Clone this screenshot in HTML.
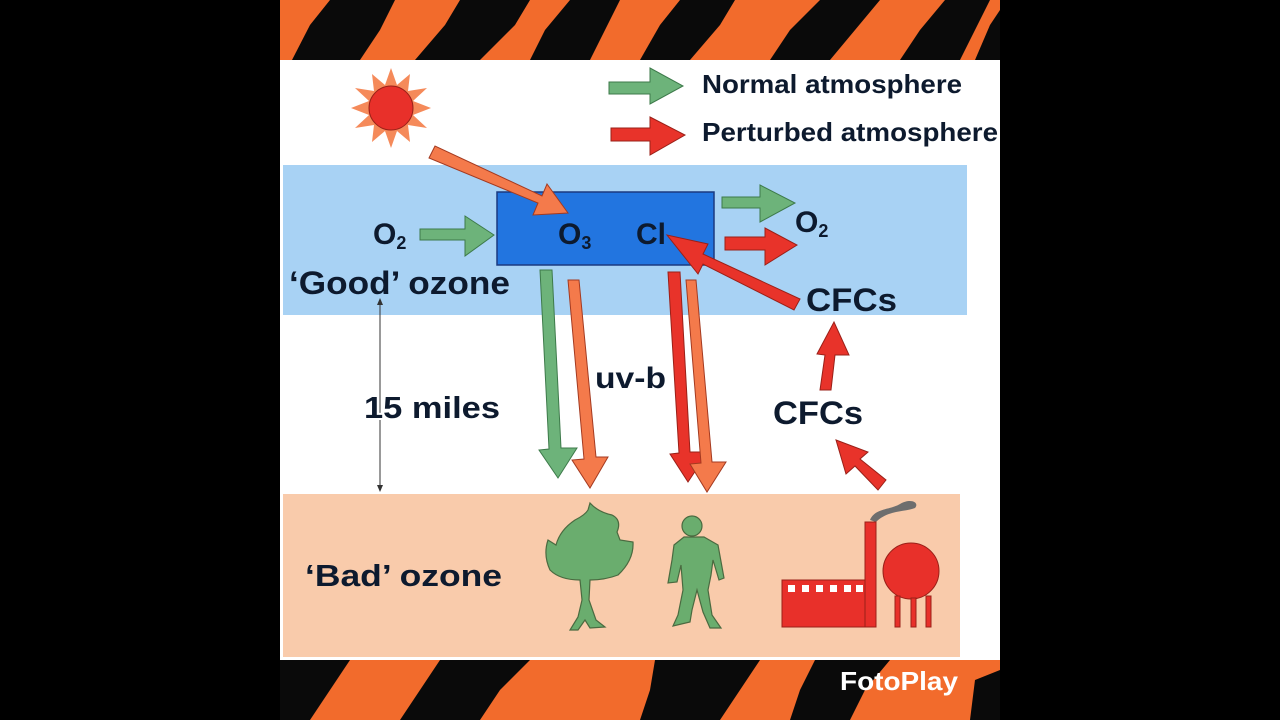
<!DOCTYPE html>
<html><head><meta charset="utf-8"><style>
html,body{margin:0;padding:0;background:#000;width:1280px;height:720px;overflow:hidden}
svg{display:block}
text{font-family:"Liberation Sans",Arial,sans-serif;font-weight:bold;fill:#0d1a2e}
</style></head><body>
<svg width="1280" height="720" viewBox="0 0 1280 720">
<rect x="0" y="0" width="1280" height="720" fill="#000"/>
<rect x="280" y="0" width="720" height="60" fill="#f26b2c"/>
<g fill="#0a0a0a">
<polygon points="292,60 360,60 380,30 395,0 330,0 310,25"/>
<polygon points="415,60 480,60 515,25 530,0 460,0 445,25"/>
<polygon points="530,60 590,60 605,30 620,0 570,0 545,30"/>
<polygon points="640,60 690,60 720,25 735,0 680,0 660,25"/>
<polygon points="770,60 830,60 855,30 880,0 820,0 790,30"/>
<polygon points="900,60 960,60 975,30 990,0 945,0 920,30"/>
<polygon points="975,60 1000,60 1000,10 990,25"/>
</g>
<rect x="280" y="660" width="720" height="60" fill="#f26b2c"/>
<g fill="#0a0a0a">
<polygon points="280,660 350,660 330,690 310,720 280,720"/>
<polygon points="440,660 530,660 500,690 480,720 400,720 420,690"/>
<polygon points="655,660 760,660 740,690 720,720 640,720 650,690"/>
<polygon points="815,660 890,660 865,690 850,720 790,720 800,690"/>
<polygon points="975,680 1000,670 1000,720 970,720"/>
</g>
<text x="840" y="690" font-size="26" textLength="118" lengthAdjust="spacingAndGlyphs" style="fill:#fff">FotoPlay</text>
<rect x="280" y="60" width="720" height="600" fill="#fff"/>
<rect x="283" y="165" width="684" height="150" fill="#a8d2f4"/>
<rect x="283" y="494" width="677" height="163" fill="#f9cbab"/>
<rect x="497" y="192" width="217" height="73" fill="#2275e0" stroke="#1a3a80" stroke-width="1.5"/>
<polygon points="609,82 650,82 650,68 683,86 650,104 650,94 609,94" fill="#6db37a" stroke="#3d7a4a" stroke-width="1"/>
<polygon points="611,128 650,128 650,117 685,135 650,155 650,141 611,141" fill="#e8332a" stroke="#9a2018" stroke-width="1"/>
<text x="702" y="93" font-size="26" textLength="260" lengthAdjust="spacingAndGlyphs">Normal atmosphere</text>
<text x="702" y="141" font-size="26" textLength="296" lengthAdjust="spacingAndGlyphs">Perturbed atmosphere</text>
<polygon fill="#f58a5a" points="391,68 397,85 410,74 408,91 427,88 413,101 431,108 413,115 427,128 408,125 410,142 397,131 391,148 385,131 372,142 374,125 355,128 369,115 351,108 369,101 355,88 374,91 372,74 385,85"/>
<circle cx="391" cy="108" r="22" fill="#e8302a" stroke="#9a2018" stroke-width="1"/>
<polygon points="429,158 435,146 542,196 547,184 568,213 533,215 538,203" fill="#f47a4b" stroke="#a43a20" stroke-width="1"/>
<polygon points="420,229 465,229 465,216 494,235 465,256 465,240 420,240" fill="#6db37a" stroke="#3d7a4a" stroke-width="1"/>
<polygon points="722,197 760,197 760,185 795,203 760,222 760,208 722,208" fill="#6db37a" stroke="#3d7a4a" stroke-width="1"/>
<polygon points="725,237 765,237 765,228 797,245 765,265 765,250 725,250" fill="#e8332a" stroke="#9a2018" stroke-width="1"/>
<polygon points="800,299 794,310 703,264 698,274 667,235 708,244 703,254" fill="#e8332a" stroke="#9a2018" stroke-width="1"/>
<text x="373" y="244" font-size="30">O<tspan font-size="18" dy="5">2</tspan></text>
<text x="558" y="244" font-size="30">O<tspan font-size="18" dy="5">3</tspan></text>
<text x="636" y="244" font-size="30">Cl</text>
<text x="795" y="232" font-size="30">O<tspan font-size="18" dy="5">2</tspan></text>
<text x="289" y="294" font-size="32" textLength="221" lengthAdjust="spacingAndGlyphs">‘Good’ ozone</text>
<text x="806" y="311" font-size="32" textLength="91" lengthAdjust="spacingAndGlyphs">CFCs</text>
<polygon points="540,270 552,270 561,448 577,448 558,478 539,450 549,449" fill="#6db37a" stroke="#3d7a4a" stroke-width="1"/>
<polygon points="568,280 579,280 596,457 608,457 590,488 572,460 584,459" fill="#f47a4b" stroke="#a43a20" stroke-width="1"/>
<polygon points="668,272 680,272 690,452 708,452 688,482 670,454 679,453" fill="#e8332a" stroke="#9a2018" stroke-width="1"/>
<polygon points="686,280 696,280 712,462 726,462 707,492 690,464 701,463" fill="#f47a4b" stroke="#a43a20" stroke-width="1"/>
<text x="595" y="388" font-size="30" textLength="71" lengthAdjust="spacingAndGlyphs">uv-b</text>
<line x1="380" y1="302" x2="380" y2="488" stroke="#333" stroke-width="1"/>
<polygon points="377,305 380,298 383,305" fill="#333"/>
<polygon points="377,485 380,492 383,485" fill="#333"/>
<text x="364" y="418" font-size="31" textLength="136" lengthAdjust="spacingAndGlyphs" style="fill:#0d1a2e;paint-order:stroke;stroke:#fff;stroke-width:4">15 miles</text>
<polygon points="886,480 878,490 855,466 846,474 836,440 868,452 860,459" fill="#e8332a" stroke="#9a2018" stroke-width="1"/>
<polygon points="820,390 831,390 835,355 849,355 834,322 817,354 825,355" fill="#e8332a" stroke="#9a2018" stroke-width="1"/>
<text x="773" y="424" font-size="32" textLength="90" lengthAdjust="spacingAndGlyphs">CFCs</text>
<text x="305" y="586" font-size="31" textLength="197" lengthAdjust="spacingAndGlyphs">‘Bad’ ozone</text>
<path d="M590,503 Q598,512 612,515 Q622,520 617,532 L620,540 L633,542 Q634,560 618,575 Q605,580 590,580 L589,600 L596,620 L605,627 L590,628 L585,620 L578,630 L570,630 L578,617 L582,600 L580,580 Q560,580 550,570 Q543,555 548,540 L556,545 Q560,530 575,520 Q585,515 588,510 Z" fill="#6aad6e" stroke="#4a6a40" stroke-width="1.2"/>
<circle cx="692" cy="526" r="10" fill="#6aad6e" stroke="#4a6a40" stroke-width="1.2"/>
<path d="M684,537 L704,537 L718,545 L724,578 L719,580 L713,560 L711,575 L708,590 L712,615 L721,628 L710,628 L703,612 L697,590 L692,610 L690,622 L673,626 L678,615 L683,590 L681,565 L677,582 L668,583 L672,560 L674,545 Z" fill="#6aad6e" stroke="#4a6a40" stroke-width="1.2"/>
<path d="M870,520 C875,508 890,510 900,504 C910,498 920,502 915,508 C905,512 888,510 876,522 Z" fill="#6e6e6e"/>
<rect x="782" y="580" width="83" height="47" fill="#e8302a" stroke="#9a2018" stroke-width="1"/>
<rect x="865" y="522" width="11" height="105" fill="#e8302a" stroke="#9a2018" stroke-width="1"/>
<g fill="#fff"><rect x="788" y="585" width="7" height="7"/><rect x="802" y="585" width="7" height="7"/><rect x="816" y="585" width="7" height="7"/><rect x="830" y="585" width="7" height="7"/><rect x="844" y="585" width="7" height="7"/><rect x="856" y="585" width="7" height="7"/></g>
<circle cx="911" cy="571" r="28" fill="#e8302a" stroke="#9a2018" stroke-width="1"/>
<g fill="#e8302a" stroke="#9a2018" stroke-width="1"><rect x="895" y="596" width="5" height="31"/><rect x="911" y="598" width="5" height="29"/><rect x="926" y="596" width="5" height="31"/></g>
</svg>
</body></html>
